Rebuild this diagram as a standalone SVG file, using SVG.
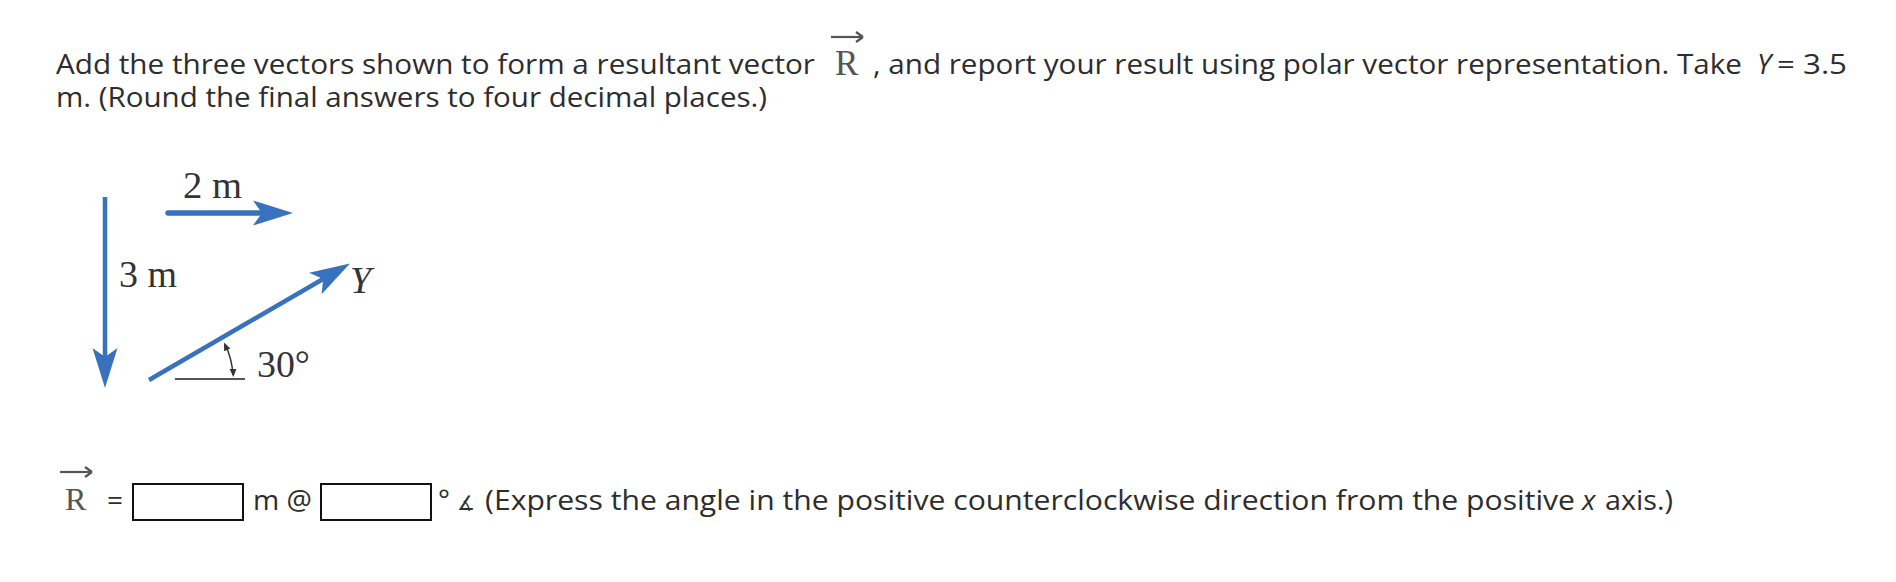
<svg xmlns="http://www.w3.org/2000/svg" xmlns:xlink="http://www.w3.org/1999/xlink" width="1896" height="582" viewBox="0 0 1896 582">
<style>
.q{font-family:"Open Sans","Liberation Sans",sans-serif;font-size:28px;fill:#2d2d2d}
.qi{font-family:"Open Sans","Liberation Sans",sans-serif;font-size:28px;fill:#2d2d2d;font-style:italic}
.rv{font-family:"Liberation Serif",serif;fill:#555}
.lbl{font-family:"Liberation Serif",serif;font-size:38px;fill:#333}
.shaft{stroke:#3872bf;fill:none}
.vec{fill:#3872bf}
.vbar{stroke:#555;stroke-width:2.2;fill:none}
.box{fill:#fff;stroke:#111;stroke-width:2}
</style>
<defs>
<path id="ah" d="M0,0 L-40,-12.5 L-31,0 L-40,12.5 Z"/>
<path id="sah" d="M0,0 L-8,-3.4 L-8,3.4 Z"/>
<path id="vah" d="M0,0 L-7,-5 M0,0 L-7,5"/>
</defs>
<rect width="1896" height="582" fill="#fff"/>

<g id="question-text">
<text class="q" x="56" y="74" textLength="759" lengthAdjust="spacingAndGlyphs">Add the three vectors shown to form a resultant vector</text>
<g id="R-top">
<text class="rv" x="835" y="75" font-size="35">R</text>
<line class="vbar" x1="831" y1="37" x2="862" y2="37"/>
<use xlink:href="#vah" class="vbar" transform="translate(863,37)"/>
</g>
<text class="q" x="873" y="74" textLength="869" lengthAdjust="spacingAndGlyphs">, and report your result using polar vector representation. Take</text>
<text class="qi" x="1757" y="74">Y</text>
<text class="q" x="1777" y="74" textLength="70" lengthAdjust="spacingAndGlyphs">= 3.5</text>
<text class="q" x="56" y="107" textLength="711" lengthAdjust="spacingAndGlyphs">m. (Round the final answers to four decimal places.)</text>
</g>

<g id="vec-down">
<line class="shaft" stroke-width="4.5" x1="105" y1="197" x2="105" y2="360"/>
<use xlink:href="#ah" class="vec" transform="translate(105,388) rotate(90)"/>
<text class="lbl" x="119" y="287" textLength="58" lengthAdjust="spacingAndGlyphs">3 m</text>
</g>

<g id="vec-right">
<line class="shaft" stroke-width="5.5" stroke-linecap="round" x1="168" y1="213" x2="264" y2="213"/>
<use xlink:href="#ah" class="vec" transform="translate(293,213)"/>
<text class="lbl" x="183" y="198" textLength="59" lengthAdjust="spacingAndGlyphs">2 m</text>
</g>

<g id="vec-Y">
<line class="shaft" stroke-width="4.5" x1="149" y1="380" x2="324" y2="278.5"/>
<use xlink:href="#ah" class="vec" transform="translate(350,263.5) rotate(-30)"/>
<text class="lbl" x="350" y="293" font-style="italic">Y</text>
</g>

<g id="angle-mark">
<line x1="175" y1="379" x2="245" y2="379" stroke="#555" stroke-width="2.2"/>
<path d="M233,375 A85,85 0 0 0 225.5,345" fill="none" stroke="#333" stroke-width="1.5"/>
<use xlink:href="#sah" fill="#333" transform="translate(233.3,377) rotate(88)"/>
<use xlink:href="#sah" fill="#333" transform="translate(224,342.5) rotate(-114)"/>
<text class="lbl" x="257" y="377" textLength="53" lengthAdjust="spacingAndGlyphs">30°</text>
</g>

<g id="answer-row">
<g id="R-bottom">
<text class="rv" x="65" y="510" font-size="32">R</text>
<line class="vbar" x1="60" y1="472" x2="91" y2="472"/>
<use xlink:href="#vah" class="vbar" transform="translate(92,472)"/>
</g>
<text class="q" x="107" y="510">=</text>
<rect class="box" x="133" y="484" width="110" height="36"/>
<text class="q" x="253" y="510" textLength="59" lengthAdjust="spacingAndGlyphs">m @</text>
<rect class="box" x="321" y="484" width="110" height="36"/>
<text class="q" x="438" y="510">°</text>
<text x="457" y="510" font-family="DejaVu Sans,sans-serif" font-size="20" fill="#2d2d2d">∡</text>
<text class="q" x="485" y="510" textLength="1090" lengthAdjust="spacingAndGlyphs">(Express the angle in the positive counterclockwise direction from the positive</text>
<text class="qi" x="1582" y="510">x</text>
<text class="q" x="1605" y="510" textLength="68" lengthAdjust="spacingAndGlyphs">axis.)</text>
</g>
</svg>
